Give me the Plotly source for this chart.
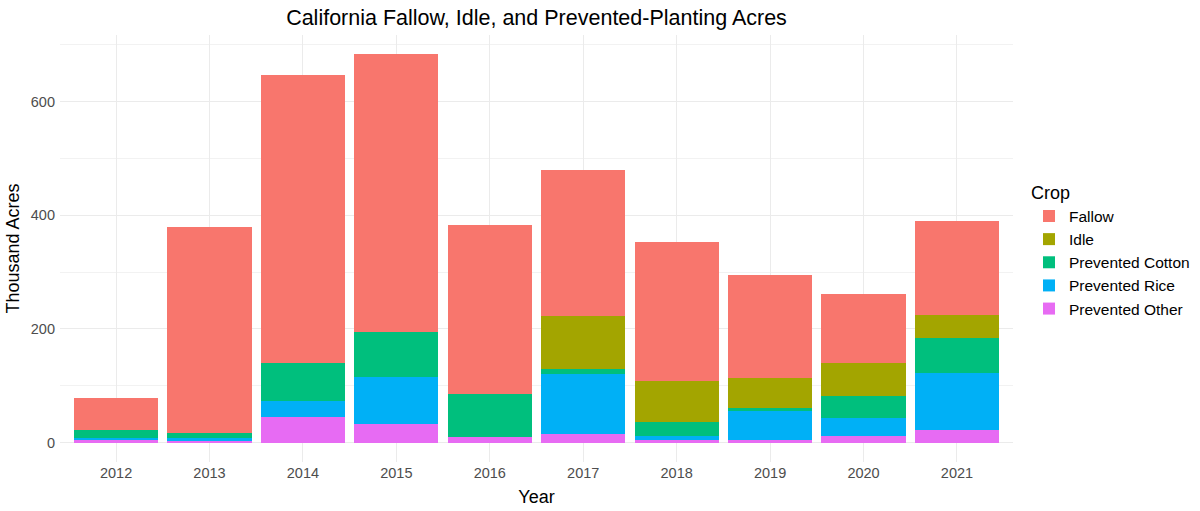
import plotly.graph_objects as go

years = ["2012", "2013", "2014", "2015", "2016", "2017", "2018", "2019", "2020", "2021"]
prevented_other = [6, 3.5, 44.5, 32, 9.3, 14.6, 5.2, 5.2, 11, 22]
prevented_rice = [1.5, 4.5, 28, 83, 0, 105.4, 7, 50, 32, 100]
prevented_cotton = [15, 9.5, 67.5, 79, 76.7, 9, 23.5, 5, 39, 62]
idle = [0, 0, 0, 0, 0, 93, 72, 54, 58, 40]
fallow = [56, 362.5, 506, 489, 297, 258.5, 246, 180, 122, 166]

series = [
    ("Prevented Other", prevented_other, "#E76BF3"),
    ("Prevented Rice", prevented_rice, "#00B0F6"),
    ("Prevented Cotton", prevented_cotton, "#00BF7D"),
    ("Idle", idle, "#A3A500"),
    ("Fallow", fallow, "#F8766D"),
]

fig = go.Figure()
for name, vals, col in series:
    fig.add_trace(go.Bar(x=years, y=vals, name=name, marker=dict(color=col, line=dict(width=0))))

font = "Liberation Sans, Arial, sans-serif"
fig.update_layout(
    barmode="stack",
    bargap=0.1,
    width=1200,
    height=511,
    margin=dict(l=60, r=187, t=34.5, b=49.4, autoexpand=False),
    plot_bgcolor="white",
    paper_bgcolor="white",
    font=dict(family=font),
    title=dict(text="California Fallow, Idle, and Prevented-Planting Acres",
               x=(60 + 1013) / 2 / 1200, xanchor="center", y=1 - 17 / 511, yanchor="middle",
               font=dict(size=21.5, color="black", family=font)),
    legend=dict(title=dict(text="Crop", font=dict(size=18, color="black")),
                traceorder="reversed", xref="container", yref="container",
                x=1029 / 1200, xanchor="left", y=1 - 176 / 511, yanchor="top",
                font=dict(size=15.5, color="black"), tracegroupgap=0, itemwidth=30),
    xaxis=dict(title=dict(text="Year", font=dict(size=18, color="black"), standoff=10),
               range=[-0.6, 9.6], automargin=False,
               showgrid=True, gridcolor="#EBEBEB", gridwidth=1.1,
               tickfont=dict(size=14.5, color="#4D4D4D"), ticks="", zeroline=False,
               showline=False),
    yaxis=dict(title=dict(text="Thousand Acres", font=dict(size=18, color="black"), standoff=6),
               range=[-34.15, 717.2], tickvals=[0, 200, 400, 600], automargin=False,
               showgrid=True, gridcolor="#EBEBEB", gridwidth=1.1,
               minor=dict(tickvals=[100, 300, 500, 700], showgrid=True, gridcolor="#F2F2F2", gridwidth=0.6),
               tickfont=dict(size=14.5, color="#4D4D4D"), ticks="", zeroline=False, showline=False,
               ticklabelstandoff=4),
)

fig.write_html("out.html")
